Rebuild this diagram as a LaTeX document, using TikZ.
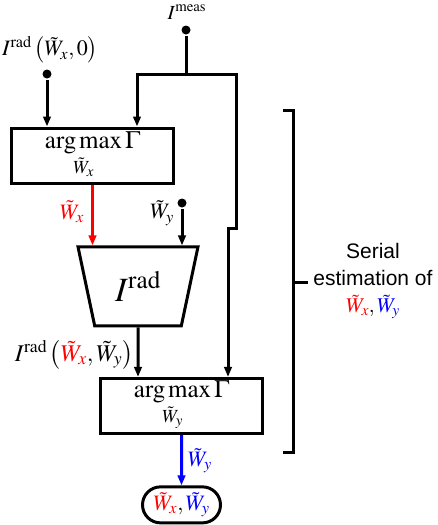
\documentclass[tikz,border=0pt]{standalone}
\usepackage{mathptmx}
\usepackage{fontspec}
\setmainfont{Liberation Serif}
\newfontfamily\sansfont{Liberation Sans}
\usepackage{tikz}
\usetikzlibrary{positioning,shapes.geometric,shapes.misc,arrows.meta}
\newcommand{\Wx}{\tilde{W}_{x}}
\newcommand{\Wy}{\tilde{W}_{y}}
\newcommand{\Irad}{I^{\mathrm{rad}}}
\newcommand{\argmaxof}[1]{\displaystyle\mathop{\arg\max}\limits_{#1}\Gamma}
\newcommand{\fs}[1]{\fontsize{#1}{#1}\selectfont}

\begin{document}
\begin{tikzpicture}[x=1pt,y=-1pt,line width=3pt,>={Triangle[length=10pt,width=7.5pt]},
    font=\fs{24},
    box/.style={draw,font=\fs{25},minimum width=162pt,minimum height=55pt,inner sep=0pt},
    trap/.style={draw,trapezium,trapezium left angle=106.6,trapezium right angle=106.6,
      trapezium stretches=true,minimum width=120pt,minimum height=79pt,inner sep=0pt},
    result/.style={draw,rounded rectangle,minimum width=78pt,minimum height=36pt,inner sep=0pt},
    dot/.style={circle,fill,inner sep=0pt,minimum size=9pt}]
      \useasboundingbox (0,0) rectangle (437,525);
      \node [box] (1) at (92.5,155.5) {$\argmaxof{\Wx}$};
      \node [trap,font=\fs{34},below of=1,xshift=45.5pt,yshift=-102.5pt] (2) {$\Irad$};
      \node [box,below of=2,xshift=43.5pt,yshift=-91pt] (3) {$\argmaxof{\Wy}$};
      \node [result,font=\fs{22},below of=3,yshift=-70.5pt] (4) {${\color{red}\Wx},{\color{blue}\Wy}$};

      \node [font=\fs{22},above of=1,xshift=-42.5pt,yshift=77pt] (5) {$\Irad\left(\Wx,0\right)$};
      \node [font=\fs{20},right of=5,xshift=108.5pt,yshift=38pt] (6) {$I^{\mathrm{meas}}$};
      \node [font=\fs{22},below of=1,xshift=-20.5pt,yshift=-28pt,red] (8) {$\Wx$};
      \node [below of=2,xshift=-64pt,yshift=-40pt] (9) {$\Irad\left({\color{red}\Wx},\Wy\right)$};
      \node [font=\fs{22},below of=3,xshift=18.5pt,yshift=-26.5pt,blue] (10) {$\Wy$};

      \node [dot] (d1) at (47,74) {};
      \node [dot] (d2) at (186,30) {};
      \node [dot] (d3) at (182,203) {};
      \node [font=\fs{22},left of=d3,xshift=8.5pt,yshift=-10pt] (7) {$\Wy$};

      \coordinate (j1) at (137,74);
      \coordinate (j2) at (236,74);
      \coordinate (k) at (228,228);

      \draw[->] (d1) -- (1.north -| d1);
      \draw[->] (d2) |- (j1) -- (1.north -| j1);
      \draw[->] (j1 -| d2) -- (j2) |- (k) -- (3.north -| k);
      \draw[->,red] (1) -- (1 |- 2.north);
      \draw[->] (d3) -- (d3 |- 2.north);
      \draw[->] (2) -- (2 |- 3.north);
      \draw[->,blue] (3) -- (4);

      % brace
      \draw (283,110) -- (293,110) -- (293,452) -- (283,452);
      \draw (293,282) -- (308,282);
      \node [align=center,font=\sansfont\fontsize{21}{27}\selectfont] (11) at (373,281)
        {Serial\\estimation of\\${\color{red}\Wx},{\color{blue}\Wy}$};
    \end{tikzpicture}
\end{document}
